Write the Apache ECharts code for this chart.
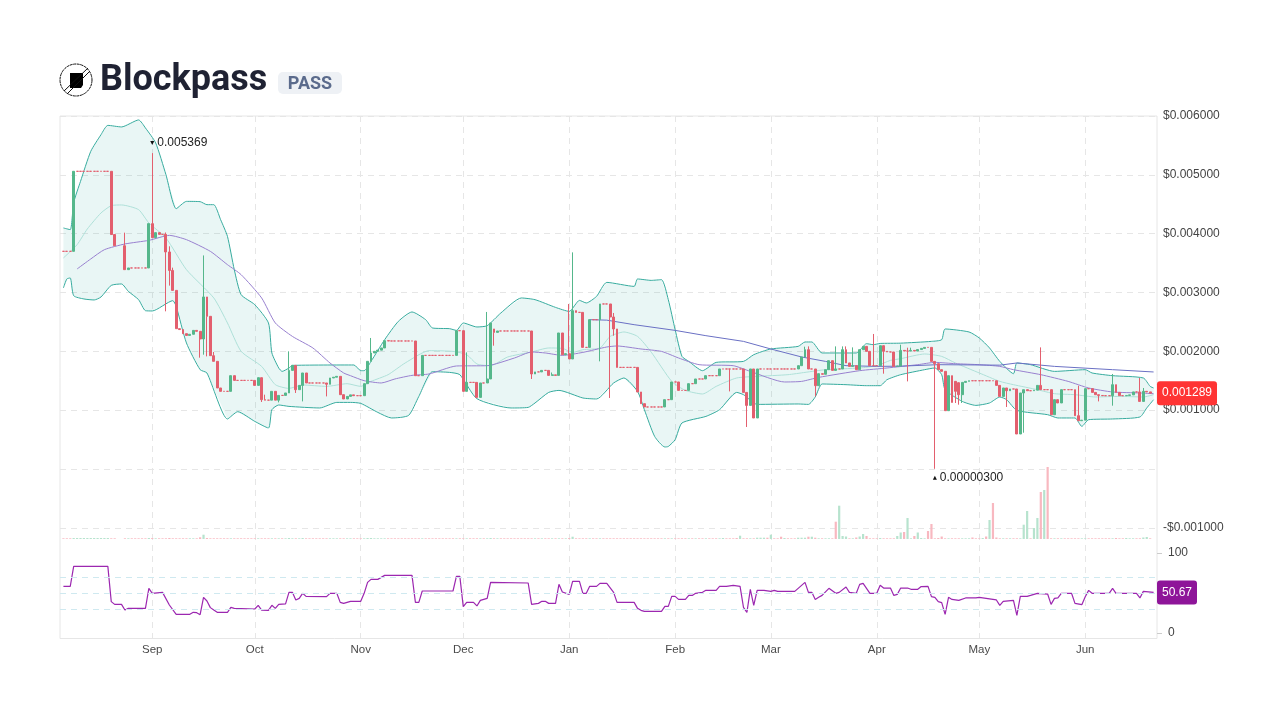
<!DOCTYPE html>
<html>
<head>
<meta charset="utf-8">
<title>Blockpass</title>
<script src="https://cdn.jsdelivr.net/npm/echarts@6/dist/echarts.min.js"></script>
<style>
  html,body{margin:0;padding:0;background:#fff;}
  #chart{width:1280px;height:720px;}
</style>
</head>
<body>
<div id="chart"></div>
<script>
// x axis is one slot per day, month names on the first day of each month
var dayCount = 322;
var monthStarts = {27:'Sep',57:'Oct',88:'Nov',118:'Dec',149:'Jan',180:'Feb',208:'Mar',239:'Apr',269:'May',300:'Jun'};

// all prices below are in millionths of a dollar, [day, value]
// close of a day stays until the next row, null = no candle
var closeSteps = [[1,3700],[4,5060],[15,3985],[16,3795],[17,null],[19,3388],[20,3417],[26,4170],[27,3932],[28,4017],[29,3988],
  [31,3689],[32,3375],[33,3036],[34,2385],[35,2370],[36,2300],[37,2270],[38,2290],[39,2356],[40,2340],[41,2210],[42,2924],[43,2595],
  [44,1926],[45,1830],[46,1377],[47,1320],[50,1586],[51,1506],[57,1421],[58,1552],[59,1178],[60,1170],[62,1320],[63,1170],[64,1251],
  [66,1292],[67,1676],[68,1761],[69,1348],[70,1421],[71,1632],[72,1462],[78,1440],[79,1547],[80,1560],[81,1575],[82,1263],[83,1190],
  [84,1234],[85,1260],[86,1246],[89,1450],[90,1830],[91,1972],[92,2000],[93,2020],[94,2057],[95,2181],[96,2176],[104,1586],[106,1931],
  [116,2351],[118,1320],[119,1472],[122,1217],[123,1462],[125,1530],[126,2482],[127,2322],[128,2346],[138,1615],[139,1650],[141,1676],
  [143,1591],[144,1600],[145,1591],[146,2312],[147,1943],[148,1960],[149,1870],[150,2691],[151,2662],[153,2067],[155,2538],[158,2805],
  [161,2584],[162,2380],[163,1727],[169,1309],[170,1110],[171,1054],[177,1178],[179,1479],[181,1336],[184,1450],[186,1530],[189,1586],
  [193,1700],[200,1302],[201,1081],[202,1700],[203,867],[204,1700],[216,1756],[217,1904],[218,2028],[219,1700],[221,1416],[222,1620],
  [223,1610],[224,1688],[225,1841],[226,1676],[227,1700],[229,2028],[230,1802],[231,1744],[232,1756],[233,1688],[234,2028],[235,2084],
  [236,2000],[237,1756],[240,2096],[241,2000],[242,1989],[244,1744],[245,1750],[246,2016],[247,2005],[249,2016],[250,2005],[251,2030],
  [252,2050],[253,2067],[255,1829],[256,1790],[257,1688],[258,1660],[259,991],[260,1586],[261,1132],[262,1320],[263,1263],[264,1472],
  [265,1490],[266,1500],[274,1421],[275,1234],[276,1377],[277,1330],[278,1360],[280,595],[281,1292],[282,1348],[283,1330],[285,1340],
  [286,1421],[287,1348],[290,923],[291,1178],[292,1122],[293,1348],[297,906],[298,821],[299,830],[300,1365],[302,1302],[303,1263],
  [304,1250],[305,1246],[308,1433],[309,1302],[310,1246],[312,1250],[313,1260],[314,1310],[316,1149],[317,1320],[318,1310],[319,1289],[320,null]];
// days that did not open at the previous close
var openGaps = {262:1490,263:1467,127:2380};
// [low, high] shadows
var wicks = {19:[null,4017],27:[null,5369],31:[2680,4020],32:[3117,3785],33:[null,3422],41:[1892,null],42:[1943,3630],43:[1914,null],
  45:[null,1989],59:[1139,null],60:[null,1263],64:[1132,null],67:[null,2000],69:[1292,null],71:[1149,null],78:[1234,null],91:[null,2227],
  119:[null,1982],125:[null,2669],127:[2096,null],138:[1530,null],144:[null,1640],149:[null,2805],150:[null,3682],158:[1830,null],
  161:[1207,2805],162:[2266,2652],196:[1319,null],201:[714,null],218:[null,2079],219:[null,2084],221:[1234,null],227:[null,2084],
  229:[null,2084],230:[null,2084],232:[null,2067],238:[null,2295],241:[1620,null],246:[null,2113],248:[1489,2062],249:[null,2062],
  256:[3,null],262:[1122,null],263:[1093,null],264:[1122,null],277:[1054,null],282:[617,null],287:[null,2067],298:[null,1416],304:[1149,null],
  308:[1076,1615],316:[null,1547],317:[null,1377]};

// bollinger bands
var upperBand = [[1,4097],[3,4068],[4,4527],[6,4889],[9,5399],[12,5683],[14,5841],[18,5814],[23,5933],[25,5797],[28,5542],[31,5003],[34,4425],
  [37,4549],[41,4544],[43,4493],[45,4493],[47,4238],[49,3954],[51,3388],[53,2963],[57,2793],[61,2482],[62,1972],[64,1717],[65,1659],[67,1717],
  [68,1761],[86,1768],[88,1671],[89,1671],[91,1829],[95,2198],[99,2509],[103,2669],[107,2538],[109,2397],[114,2385],[116,2356],[118,2482],
  [122,2414],[125,2436],[129,2652],[135,2907],[139,2878],[145,2747],[149,2679],[152,2866],[154,2822],[157,2934],[160,3172],[168,3104],[169,3230],
  [173,3206],[176,3218],[178,2878],[180,2368],[182,1914],[184,1829],[188,1671],[192,1812],[200,1829],[203,1943],[208,2040],[216,2084],[218,2159],
  [220,2159],[223,1972],[233,1972],[236,2130],[238,2113],[240,2134],[246,2139],[255,2169],[258,2198],[259,2380],[266,2329],[269,2227],[272,2057],
  [275,1829],[279,1620],[280,1802],[284,1773],[291,1659],[300,1688],[302,1632],[308,1586],[317,1547],[319,1404],[320,1377]];
var lowerBand = [[1,3077],[2,3230],[3,3247],[4,2946],[7,2890],[10,2873],[12,2924],[15,3121],[18,3145],[20,3019],[23,2878],[25,2691],[27,2686],
  [33,2861],[34,2764],[37,2142],[41,1688],[43,1632],[49,850],[52,974],[57,809],[61,697],[62,1008],[64,1088],[67,1064],[76,1037],[81,1132],[85,1132],
  [88,1115],[93,962],[97,867],[102,911],[105,1234],[109,1654],[114,1642],[117,1603],[122,1195],[132,1037],[137,1047],[139,1122],[143,1302],[146,1336],
  [153,1207],[157,1190],[162,1462],[165,1547],[169,1319],[171,1008],[174,554],[177,374],[178,383],[180,498],[182,782],[189,894],[193,1008],[198,1302],
  [200,1263],[204,1098],[216,1105],[219,1098],[221,1224],[223,1445],[230,1433],[236,1416],[240,1416],[242,1518],[246,1603],[253,1688],[256,1717],
  [258,1603],[259,1348],[264,1149],[268,1081],[272,1122],[275,1224],[277,1178],[280,996],[289,923],[292,867],[297,867],[299,724],[301,838],[308,850],
  [316,884],[318,1037],[320,1178]];
var middleBand = [[1,3587],[5,3813],[8,4080],[12,4352],[15,4476],[18,4488],[23,4408],[26,4182],[31,3927],[37,3388],[45,2907],[49,2482],[53,1999],
  [59,1744],[63,1433],[67,1370],[71,1428],[78,1404],[84,1450],[88,1404],[91,1489],[96,1603],[101,1802],[108,2011],[115,1999],[119,1943],[122,1785],
  [126,1756],[131,1904],[138,1989],[143,2057],[147,2050],[150,1982],[153,2028],[158,2057],[161,2254],[165,2329],[169,2254],[173,1986],[179,1489],
  [183,1336],[188,1275],[192,1404],[198,1547],[204,1574],[213,1603],[218,1642],[224,1688],[234,1717],[239,1756],[243,1846],[246,1875],[253,1955],
  [258,1914],[262,1802],[269,1632],[275,1489],[279,1433],[286,1348],[291,1280],[297,1263],[303,1224],[310,1234],[317,1224],[320,1263]];

// moving averages
var purpleAvg = [[5,3400],[9,3570],[13,3728],[19,3825],[26,3886],[32,3971],[37,3898],[44,3699],[49,3473],[53,3303],[59,2907],[63,2482],[68,2254],
  [74,2057],[79,1802],[83,1632],[85,1586],[89,1501],[94,1462],[98,1530],[103,1591],[108,1615],[116,1751],[125,1756],[133,1887],[138,1989],[142,1972],
  [147,1931],[153,1982],[160,2074],[163,2091],[170,2040],[176,1999],[181,1887],[187,1773],[197,1756],[202,1659],[212,1479],[217,1489],[222,1557],
  [234,1671],[242,1717],[251,1773],[256,1812],[262,1790],[269,1773],[275,1744],[279,1688],[287,1603],[295,1489],[301,1377],[308,1309],[316,1292],[320,1280]];
var blueAvg = [[155,2538],[160,2530],[168,2453],[180,2356],[189,2266],[200,2169],[208,2040],[217,1904],[224,1829],[230,1756],[239,1744],[246,1748],
  [257,1773],[275,1765],[280,1802],[291,1744],[308,1688],[320,1649]];

// volume rows: [day, amount, 1 = up / 0 = down]
var volumeRows = [[4,10,1],[5,10,1],[6,10,1],[7,10,1],[8,10,1],[9,10,1],[10,10,1],[11,10,1],[12,10,1],[13,10,1],[14,10,1],[26,10,1],[27,10,0],[32,10,0],
  [41,17,0],[42,43,1],[43,10,0],[67,10,1],[71,10,1],[90,10,1],[91,10,1],[126,10,1],[149,10,0],[150,23,1],[194,10,1],[198,10,0],[199,33,1],[204,13,1],
  [205,13,1],[206,13,1],[207,13,0],[208,43,1],[211,23,0],[212,10,1],[216,13,1],[217,13,1],[218,13,1],[219,23,0],[220,23,1],[221,13,0],[227,173,0],
  [228,333,1],[229,30,1],[230,25,1],[233,15,0],[234,25,1],[235,50,1],[236,30,0],[240,10,1],[245,30,1],[246,65,1],[247,70,0],[248,210,1],[250,30,0],
  [251,65,1],[252,10,1],[254,80,0],[255,150,0],[257,10,0],[258,25,0],[267,15,0],[270,10,1],[271,25,0],[272,190,1],[273,360,0],[274,15,0],[282,143,1],
  [283,280,1],[285,110,1],[286,210,1],[287,470,0],[288,490,1],[289,720,0],[309,10,0],[312,10,1],[317,15,1],[318,20,1]];

// rsi
var rsiLine = [[1,58.3],[3,58.3],[4,83.3],[14,83.3],[15,39.2],[16,35.8],[18,35.8],[19,28.7],[20,30.8],[25,30.8],[26,55.8],[27,49.6],[30,50.8],[32,35],
  [34,23.3],[38,23.3],[39,25.8],[40,25.4],[41,22.9],[42,44.6],[43,40],[44,31.7],[45,28.7],[46,25.8],[49,25.8],[50,32],[51,30.8],[57,30],[58,34.6],
  [59,28.7],[61,28.3],[62,34.6],[63,30.8],[64,35.8],[66,36.3],[67,50.8],[68,50.8],[69,41.3],[70,43.3],[71,49.6],[72,45.8],[78,45.4],[79,49.6],[81,49.6],
  [82,38.3],[83,37],[85,39.6],[88,39.6],[89,49.6],[90,63.3],[91,67],[93,67],[95,72],[103,72],[104,38.3],[105,38.3],[106,52.5],[115,52.5],[116,70.8],
  [117,70.8],[118,32.9],[119,38.3],[121,38.3],[122,33.8],[123,40.8],[125,43.3],[126,63.3],[137,62.5],[138,35.8],[140,37],[141,39.6],[142,39.6],[143,37],
  [145,37],[146,60.8],[147,51.2],[149,48.3],[150,64.6],[152,64.6],[153,49.6],[154,49.6],[155,58.3],[157,58.3],[158,62],[160,62],[162,50.8],[163,38.3],
  [168,38.3],[169,30.8],[170,28.3],[171,27],[176,27],[177,33.3],[178,33.3],[179,45.8],[180,45.8],[181,42],[183,42],[184,47],[185,47],[186,49.6],[188,50.8],
  [189,53.3],[192,53.3],[193,58.3],[195,58.3],[197,59.6],[199,58.3],[200,32],[201,25.8],[202,54.6],[203,34.6],[204,53.3],[206,53.3],[208,52],[209,53.3],
  [210,52],[215,52],[216,55.8],[218,63.3],[219,50.8],[220,50.8],[221,42],[222,44.6],[223,47],[225,55.8],[227,49.6],[228,50.8],[230,57.5],[231,50.8],
  [233,49.6],[234,60.8],[235,62],[237,49.6],[239,49.6],[240,59.6],[241,56.2],[243,56.2],[244,47],[245,48.3],[246,56.2],[248,56.2],[249,54.6],[251,54.6],
  [252,58],[254,58.3],[255,45.4],[256,44.6],[257,39.2],[258,38],[259,23.3],[260,44.6],[261,42],[263,40.8],[265,43.8],[268,43.8],[269,44.6],[274,41.3],
  [275,34.6],[276,39.6],[279,40.8],[280,22],[281,45.8],[283,45.8],[284,47],[286,49.6],[289,48.7],[290,35.8],[291,43.3],[292,44],[293,49.6],[296,49.6],
  [297,37],[299,35.4],[300,45.4],[301,53.3],[302,49.6],[307,49.6],[308,55.8],[309,49.6],[315,49.6],[316,43.8],[317,52],[320,50.67]];

var priceTicks = [-0.001,0,0.001,0.002,0.003,0.004,0.005,0.006];
var priceLabels = [-0.001,0.001,0.002,0.003,0.004,0.005,0.006];
var rsiTicks = [0,100];
var rsiLevels = [30,50,70];
var lastPrice = 0.001289, lastRsi = 50.67;
var highMark = 0.005369, lowMark = 0.000003;

var GREEN = '#55b78b', RED = '#e35f6e';
var BAND_SMOOTH = 0.2;
// tag shapes with small corners
var PRICE_TAG = 'path://M3 0H57Q60 0 60 3V21Q60 24 57 24H3Q0 24 0 21V3Q0 0 3 0Z';
var RSI_TAG = 'path://M3 0H37Q40 0 40 3V21Q40 24 37 24H3Q0 24 0 21V3Q0 0 3 0Z';

function toPrice(rows){
  return rows.map(function(r){return [r[0], r[1]/1000000];});
}

var categories = [];
for(var i=0;i<dayCount;i++){
  categories.push(monthStarts[i] || '');
}

// expand the steps into one candle per day
var candleData = [], candleUp = [];
var stepAt = {};
closeSteps.forEach(function(s){stepAt[s[0]] = s[1];});
var cur = null, prev = null;
for(var d=0;d<dayCount;d++){
  if(stepAt[d]!==undefined){ cur = stepAt[d]; }
  if(cur===null){
    candleData.push(['-','-','-','-']);
    candleUp.push(true);
    continue;
  }
  var o = openGaps[d]!==undefined ? openGaps[d] : (prev===null ? cur : prev);
  var lo = Math.min(o,cur), hi = Math.max(o,cur);
  if(wicks[d]){
    if(wicks[d][0]!==null){ lo = wicks[d][0]; }
    if(wicks[d][1]!==null){ hi = wicks[d][1]; }
  }
  candleData.push([o/1000000,cur/1000000,lo/1000000,hi/1000000]);
  candleUp.push(cur>=o && cur!==o);
  prev = cur;
}

var volumeData = [];
for(var v=0;v<dayCount;v++){
  volumeData.push({value:candleData[v][0]==='-' ? '-' : 0, up:candleUp[v]});
}
volumeRows.forEach(function(r){
  volumeData[r[0]] = {value:r[1], up:r[2]===1};
});
volumeData = volumeData.map(function(it){
  return {value:it.value, itemStyle:{color:it.up ? '#b7e3ce' : '#f8b8c0'}};
});

function lineSeries(rows,color,width,name,smooth){
  return {
    name:name, type:'line', data:toPrice(rows), xAxisIndex:0, yAxisIndex:0,
    showSymbol:false, symbol:'none', silent:true, z:3, smooth:smooth,
    lineStyle:{color:color,width:width}
  };
}

var bandUpper = toPrice(upperBand), bandLower = toPrice(lowerBand);

var option = {
  animation:false,
  textStyle:{fontFamily:'"Liberation Sans",Arial,sans-serif'},
  grid:[
    {left:60,top:116,width:1097,height:423},
    {left:60,top:539,width:1097,height:99.5},
    {left:60,top:116,width:1097,height:522.5,show:true,borderColor:'#e6e6e6',borderWidth:1,backgroundColor:'transparent'}
  ],
  xAxis:[
    {type:'category',gridIndex:0,data:categories,boundaryGap:false,show:false},
    {type:'category',gridIndex:1,data:categories,boundaryGap:false,show:false},
    {type:'category',gridIndex:2,data:categories,boundaryGap:false,
      axisLine:{show:false},axisTick:{show:false},
      axisLabel:{color:'#4a4a4a',fontSize:11.5,margin:5,
        interval:function(idx){return categories[idx]!=='';}},
      splitLine:{show:true,lineStyle:{color:'#e6e6e6',type:[6,5],width:1},
        interval:function(idx){return categories[idx]!=='';}}
    }
  ],
  yAxis:[
    {type:'value',gridIndex:0,position:'right',min:-0.00119,max:0.006,scale:true,
      axisLine:{show:false},
      axisTick:{show:false,customValues:priceTicks},
      axisLabel:{color:'#444',fontSize:12,margin:6,padding:[6,0,0,0],customValues:priceLabels,
        formatter:function(v){return (v<0?'-$':'$')+Math.abs(v).toFixed(6);}},
      splitLine:{show:true,lineStyle:{color:'#e6e6e6',type:[6,5],width:1}}
    },
    {type:'value',gridIndex:0,min:0,max:4230,show:false,splitLine:{show:false}},
    {type:'value',gridIndex:1,position:'right',min:-6.9,max:117.5,
      axisLine:{show:false},
      axisTick:{show:true,length:5,lineStyle:{color:'#cccccc'},customValues:rsiTicks},
      axisLabel:{color:'#444',fontSize:12,margin:11,padding:[6,0,0,0],customValues:rsiTicks},
      splitLine:{show:false}
    },
    {type:'value',gridIndex:2,show:false,splitLine:{show:false}}
  ],
  series:[
    {
      type:'custom',xAxisIndex:0,yAxisIndex:0,data:[[0,0]],silent:true,z:1,clip:false,
      renderItem:function(params,api){
        var pts = bandUpper.concat(bandLower.slice().reverse()).map(function(p){return api.coord(p);});
        return {type:'polygon',shape:{points:pts},style:{fill:'rgba(38,166,154,0.1)',stroke:null}};
      }
    },
    lineSeries(upperBand,'#36ab9e',1,'upper',BAND_SMOOTH),
    lineSeries(lowerBand,'#36ab9e',1,'lower',BAND_SMOOTH),
    lineSeries(middleBand,'#aee0d8',1,'middle',BAND_SMOOTH),
    lineSeries(purpleAvg,'#9880cf',1,'ma',BAND_SMOOTH),
    lineSeries(blueAvg,'#6a70c4',1,'ma long',false),
    {
      type:'bar',xAxisIndex:0,yAxisIndex:1,data:volumeData,barWidth:2.2,barMinHeight:0.7,silent:true,z:2
    },
    {
      type:'candlestick',xAxisIndex:0,yAxisIndex:0,data:candleData,barWidth:2.4,silent:true,z:4,clip:false,
      itemStyle:{color:GREEN,color0:RED,borderColor:GREEN,borderColor0:RED,borderColorDoji:RED,borderWidth:1},
      markPoint:{
        silent:true,animation:false,
        data:[
          {coord:[27,highMark],symbol:'triangle',symbolRotate:180,symbolSize:4,symbolOffset:[0,-10],
            itemStyle:{color:'#111'},
            label:{show:true,position:'right',distance:3,color:'#222',fontSize:12,formatter:'0.005369'}},
          {coord:[256,lowMark],symbol:'triangle',symbolSize:4,symbolOffset:[0,9],
            itemStyle:{color:'#111'},
            label:{show:true,position:'right',distance:3,color:'#222',fontSize:12,formatter:'0.00000300'}},
          {coord:[321,lastPrice],symbol:PRICE_TAG,symbolSize:[60,24],symbolOffset:[30,0],
            itemStyle:{color:'#ff3434'},
            label:{show:true,position:'inside',color:'#fff',fontSize:12,formatter:'0.001289'}}
        ]
      }
    },
    {
      type:'line',xAxisIndex:1,yAxisIndex:2,data:rsiLine,showSymbol:false,symbol:'none',silent:true,z:3,
      lineStyle:{color:'#9c27b0',width:1.2},
      markLine:{
        silent:true,symbol:'none',animation:false,
        label:{show:false},
        lineStyle:{color:'#cfe9f0',type:[6,5],width:1},
        data:rsiLevels.map(function(l){return {yAxis:l};})
      },
      markPoint:{
        silent:true,animation:false,
        data:[
          {coord:[321,lastRsi],symbol:RSI_TAG,symbolSize:[40,24],symbolOffset:[20,0],
            itemStyle:{color:'#8e1599'},
            label:{show:true,position:'inside',color:'#fff',fontSize:12,formatter:'50.67'}}
        ]
      }
    }
  ],
  graphic:[
    // logo
    {type:'circle',shape:{cx:76,cy:80,r:16},style:{fill:'#fff',stroke:'#111',lineWidth:1,lineDash:[3,0.6]}},
    {type:'polygon',shape:{points:[[70,73],[83,73],[83,85],[81,88],[70,88]]},style:{fill:'#000'}},
    {type:'line',shape:{x1:64,y1:91,x2:88,y2:68},style:{stroke:'#111',lineWidth:1}},
    {type:'line',shape:{x1:67,y1:94,x2:90,y2:71},style:{stroke:'#111',lineWidth:1}},
    // title
    {type:'text',style:{x:100,y:81,text:'Blockpass',font:'700 36px Roboto',fill:'#1f2233',textVerticalAlign:'middle'}},
    {type:'rect',shape:{x:278,y:72,width:64,height:22,r:5},style:{fill:'#eef1f5'}},
    {type:'text',style:{x:310,y:84,text:'PASS',font:'700 18px Roboto',fill:'#5b6b8c',textAlign:'center',textVerticalAlign:'middle'}}
  ]
};

var myChart = echarts.init(document.getElementById('chart'));
myChart.setOption(option);
</script>
</body>
</html>
